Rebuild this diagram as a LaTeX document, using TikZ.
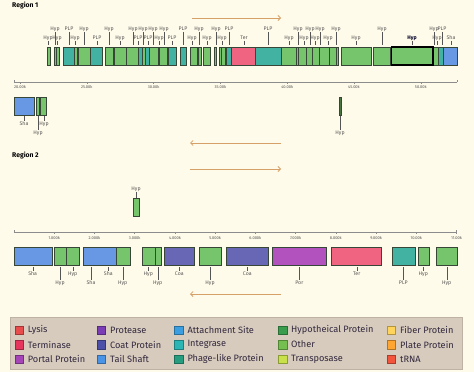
\documentclass[tikz,border=0pt]{standalone}
\usepackage{fontspec}
\setmainfont{Fira Sans}
\usetikzlibrary{arrows.meta}
\definecolor{bg}{RGB}{255,251,234}
\definecolor{gline}{RGB}{55,70,55}
\definecolor{mG}{RGB}{118,196,108}
\definecolor{mT}{RGB}{66,178,163}
\definecolor{mP}{RGB}{240,100,130}
\definecolor{mB}{RGB}{104,152,228}
\definecolor{mI}{RGB}{103,103,182}
\definecolor{mV}{RGB}{178,82,190}
\definecolor{labc}{RGB}{85,85,85}
\definecolor{axc}{RGB}{140,140,140}
\definecolor{arrc}{RGB}{214,160,105}
\definecolor{legbg}{RGB}{215,203,190}
\definecolor{legbd}{RGB}{190,178,165}
\definecolor{legtx}{RGB}{50,40,60}
\definecolor{cLys}{RGB}{232,76,76}
\definecolor{cTer}{RGB}{230,54,93}
\definecolor{cPor}{RGB}{165,69,184}
\definecolor{cPro}{RGB}{122,61,181}
\definecolor{cCoa}{RGB}{75,79,168}
\definecolor{cSha}{RGB}{74,148,232}
\definecolor{cAtt}{RGB}{58,158,224}
\definecolor{cInt}{RGB}{43,181,181}
\definecolor{cPLP}{RGB}{39,157,127}
\definecolor{cHyp}{RGB}{58,157,78}
\definecolor{cOth}{RGB}{116,191,79}
\definecolor{cTra}{RGB}{200,224,74}
\definecolor{cFib}{RGB}{255,212,92}
\definecolor{cPla}{RGB}{255,165,50}
\definecolor{cRNA}{RGB}{242,85,60}
\tikzset{
  gene/.style={draw=gline, line width=0.55pt, inner sep=0pt, outer sep=0pt, rectangle, minimum height=18pt},
  lab/.style={font=\fontsize{5.2}{6}\selectfont, text=labc, inner sep=0.3pt, text height=3.7pt, text depth=1.1pt},
  tickl/.style={draw=labc, line width=0.4pt},
  axl/.style={draw=axc, line width=0.6pt},
  axlab/.style={font=\fontsize{4}{4.5}\selectfont, text=labc, inner sep=0pt},
  arr/.style={draw=arrc, line width=0.8pt, -{Straight Barb[length=2.5pt,width=5pt]}},
  title/.style={font=\fontsize{6.8}{7.5}\selectfont\bfseries, anchor=west, inner sep=0pt},
  swatch/.style={draw=#1!70!black, fill=#1, line width=0.5pt, minimum size=8.5pt, inner sep=0pt},
  legtext/.style={font=\fontsize{9.2}{10}\selectfont, text=legtx, anchor=west, inner sep=0pt}
}
\begin{document}
\begin{tikzpicture}[x=1pt,y=-1pt]
\useasboundingbox (0,0) rectangle (474,372);
\fill[bg] (0,0) rectangle (474,372);

% titles
\node[title] (t1) at (12,5) {Region 1};
\node[title] (t2) at (12,155) {Region 2};

% strand arrows
\coordinate (a1s) at (192,18); \coordinate (a1e) at (281,18);
\coordinate (a2s) at (281,143); \coordinate (a2e) at (190,143);
\coordinate (a3s) at (190,169); \coordinate (a3e) at (281,169);
\coordinate (a4s) at (281,294); \coordinate (a4e) at (190,294);
\draw[arr] (a1s) -- (a1e);
\draw[arr] (a2s) -- (a2e);
\draw[arr] (a3s) -- (a3e);
\draw[arr] (a4s) -- (a4e);

% ---------------- Region 1 forward genes
\foreach \a/\b/\c [count=\i] in {47.7/50.7/mG, 54.3/56.5/mG, 56.5/59/mG, 63.3/74.3/mT, 74.3/77.7/mG,
  78.3/90/mG, 90/102.7/mT, 105/113.3/mG, 114/126.7/mG, 126.7/138.3/mG, 138.3/142.7/mT, 142.7/145/mG,
  145/149.3/mT, 149.3/158/mG, 159/167/mG, 168/176.7/mT, 180/186/mT, 190/197.3/mG, 198.7/201.7/mG,
  203.3/210/mG, 214/216.7/mG, 219.3/221/mG, 221/225/mG, 226/231/mT, 231/255/mP, 255/281.7/mT,
  281.7/296/mG, 296/298.3/mG, 298.3/306/mG, 306/312.7/mG, 312.7/319/mG, 319/329/mG, 329/336/mG,
  336/338.5/mG, 341/371/mG, 373/390/mG, 433/438/mG, 438/443/mT, 443/457/mB}
{
  \node[gene, fill=\c, minimum width={(\b-\a)*1pt}] (ga\i) at ({(\a+\b)/2},56) {};
}
\node[gene, fill=mG, line width=1.2pt, draw=black, minimum width=41.3pt] (gsel) at (412.35,56) {};

\coordinate (r1tick) at (0,44.5);
\foreach \x/\y/\t [count=\i] in {55/29/Hyp, 69/29/PLP, 84/29/Hyp, 109/29/Hyp, 133/29/Hyp, 143/29/Hyp,
  153/29/Hyp, 164/29/Hyp, 183/29/PLP, 199/29/Hyp, 216/29/Hyp, 229/29/PLP, 268/29/PLP, 298/29/Hyp,
  310/29/Hyp, 320/29/Hyp, 336/29/Hyp, 382/29/Hyp, 434/29/Hyp, 442/29/PLP,
  48/38/Hyp, 57/38/Hyp, 75/38/Hyp, 97/38/PLP, 120/38/Hyp, 138/38/PLP, 148/38/PLP, 159/38/Hyp,
  172/38/PLP, 192/38/Hyp, 207/38/Hyp, 222/38/Hyp, 244/38/Ter, 289/38/Hyp, 304/38/Hyp, 315/38/Hyp,
  328/38/Hyp, 356/38/Hyp, 437/38/Hyp, 451/38/Sha}
{
  \node[lab] (la\i) at (\x,\y) {\t};
  \draw[tickl] (la\i.south) -- (la\i.south |- r1tick);
}
\node[lab, text=black!85!blue] (lsel) at (412,38) {\textbf{Hyp}};
\draw[tickl] (lsel.south) -- (lsel.south |- r1tick);

% Region 1 axis
\coordinate (ax1s) at (14,82); \coordinate (ax1e) at (457,82);
\draw[axl] (ax1s) -- (ax1e);
\draw[axl] (ax1s) -- ++(0,-2.5);
\draw[axl] (ax1e) -- ++(0,-2.5);
\foreach \k [count=\i] in {20,25,30,35,40,45,50} {
  \coordinate (t1\i) at ({20+(\k-20)*13.36},82);
  \draw[axl] (t1\i) -- ++(0,2);
  \node[axlab] (tl1\i) at ({20+(\k-20)*13.36},87.5) {\k.00k};
}

% Region 1 reverse genes
\node[gene, fill=mB, minimum width=20pt] (gr1) at (24,106) {};
\node[gene, fill=mG, minimum width=3.3pt] (gr2) at (37.65,106) {};
\node[gene, fill=mG, minimum width=6pt] (gr3) at (43.7,106) {};
\node[gene, fill=mG!60!black, minimum width=2pt] (gr4) at (340,106) {};
\coordinate (r1rtick) at (0,116);
\foreach \x/\y/\t [count=\i] in {24/124/Sha, 44/124/Hyp, 38/133/Hyp, 340/133/Hyp} {
  \node[lab] (lr\i) at (\x,\y) {\t};
  \draw[tickl] (lr\i.north) -- (lr\i.north |- r1rtick);
}

% ---------------- Region 2
\node[gene, fill=mG, minimum width=6.5pt] (gu1) at (136.25,207) {};
\node[lab] (lu1) at (136,189) {Hyp};
\draw[tickl] (lu1.south) -- (lu1.south |- gu1.north);

\coordinate (ax2s) at (14,232); \coordinate (ax2e) at (456.5,232);
\draw[axl] (ax2s) -- (ax2e);
\draw[axl] (ax2s) -- ++(0,-2.5);
\draw[axl] (ax2e) -- ++(0,-2.5);
\foreach \t [count=\i] in {1.000k,2.000k,3.000k,4.000k,5.000k,6.000k,7.000k,8.000k,9.000k,10.00k,11.00k} {
  \coordinate (t2\i) at ({14+\i*40.23},232);
  \draw[axl] (t2\i) -- ++(0,2);
  \node[axlab] (tl2\i) at ({14+\i*40.23},237.7) {\t};
}

\foreach \a/\b/\c [count=\i] in {14/52.3/mB, 54/66.7/mG, 66.7/79.3/mG, 83.3/116/mB, 116/130/mG,
  142.7/155/mG, 155/161/mG, 164/194/mI, 199/221.7/mG, 226.7/268.3/mI, 272.7/326.7/mV,
  331.7/381.7/mP, 392.3/415/mT, 418.3/429/mG, 436/457.3/mG}
{
  \node[gene, fill=\c, minimum width={(\b-\a)*1pt}] (gb\i) at ({(\a+\b)/2},256.5) {};
}
\coordinate (r2tick) at (0,267);
\foreach \x/\y/\t [count=\i] in {32.7/274/Sha, 60/283/Hyp, 72.7/274/Hyp, 91/283/Sha, 108.3/274/Sha,
  122.7/283/Hyp, 148.3/274/Hyp, 157.7/283/Hyp, 179.3/274/Coa, 210/283/Hyp, 247.3/274/Coa,
  299.3/283/Por, 356.7/274/Ter, 403.3/283/PLP, 423.3/274/Hyp, 446.7/283/Hyp}
{
  \node[lab] (lb\i) at (\x,\y) {\t};
  \draw[tickl] (lb\i.north) -- (lb\i.north |- r2tick);
}

% ---------------- Legend
\node[draw=legbd, fill=legbg, line width=0.6pt, minimum width=452pt, minimum height=52pt, inner sep=0pt] (leg) at (236,343.3) {};
\foreach \sx/\tx/\c/\t [count=\i] in {
  19/27.7/cLys/Lysis, 19/27.7/cTer/Terminase, 19/27.7/cPor/Portal Protein,
  101.3/110/cPro/Protease, 101.3/110/cCoa/Coat Protein, 101.3/110/cSha/Tail Shaft,
  178.7/187.3/cAtt/Attachment Site, 178.7/187.3/cInt/Integrase, 178.7/187.3/cPLP/Phage-like Protein,
  282.8/291/cHyp/Hypotheical Protein, 282.8/291/cOth/Other, 282.8/291/cTra/Transposase,
  391.3/400/cFib/Fiber Protein, 391.3/400/cPla/Plate Protein, 391.3/400/cRNA/tRNA}
{
  \pgfmathtruncatemacro{\row}{mod(\i-1,3)}
  \pgfmathsetmacro{\yy}{330+\row*14.6}
  \node[swatch=\c] (sw\i) at (\sx,\yy) {};
  \node[legtext] (lt\i) at (\tx,\yy) {\t};
}
\end{tikzpicture}
\end{document}
